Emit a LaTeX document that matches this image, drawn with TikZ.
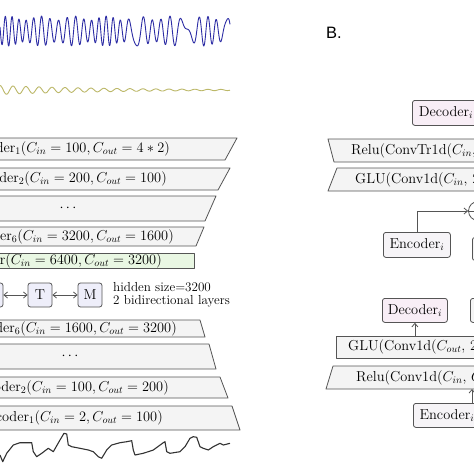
\documentclass[tikz,border=0pt]{standalone}
\usepackage{fontspec}
\newfontfamily\sansB{Liberation Sans}
\usetikzlibrary{arrows.meta}
\definecolor{bordc}{RGB}{85,85,85}
\definecolor{boxg}{RGB}{244,244,244}
\definecolor{lstmg}{RGB}{233,247,227}
\definecolor{lav}{RGB}{238,238,250}
\definecolor{pinkb}{RGB}{248,238,246}
\definecolor{encb}{RGB}{246,244,247}
\definecolor{wblue}{RGB}{45,45,165}
\definecolor{wyel}{RGB}{188,184,104}
\definecolor{wgray}{RGB}{50,50,50}
\newcommand\bfnt{\fontsize{14.4}{16}\selectfont}
\newcommand\sfnt{\fontsize{13.1}{13.5}\selectfont}
\begin{document}
\begin{tikzpicture}[x=1pt,y=-1pt,
  trap/.style={draw=bordc, fill=boxg, line width=0.8pt, line join=round},
  lbox/.style={inner sep=0pt, font=\bfnt},
  rbox/.style={draw=bordc, rounded corners=2.5pt, line width=0.8pt, inner sep=0pt, font=\bfnt},
  conn/.style={draw=bordc, line width=0.8pt},
  arr/.style={-{Straight Barb[length=3.5pt,width=6pt]}},
  darr/.style={{Straight Barb[length=3.5pt,width=6pt]}-{Straight Barb[length=3.5pt,width=6pt]}},
  ]
\clip (0,0) rectangle (474,474);
\fill[white] (0,0) rectangle (474,474);

% ---- waveforms
\draw[wblue, line width=0.9pt, line join=round] plot[domain=0:230, samples=900]
  (\x, {31-15*(0.86+0.14*sin(11*\x))*sin(48*\x - 4*atan((\x-135)/6) - 3.5*atan((\x-187)/5) + 120*sin(3*\x) - 2.5*atan((\x-226)/4))});
\draw[wyel, line width=0.9pt] plot[domain=0:230, samples=300, smooth]
  (\x, {90-4.5*exp(-\x/110)*cos(27.7*\x)});
\draw[wgray, line width=1.1pt, line join=round] (0,455) -- (2.7,461.7) -- (6.7,453.3) -- (13.3,445) -- (20,442.7) -- (31.7,442.7) -- (33.3,451.7) -- (36.7,456.7) -- (41.7,453.3) -- (48.3,448.3) -- (53.3,451.7) -- (60,440) -- (64,433.3) -- (66.7,434) -- (68.3,445) -- (71.7,446.7) -- (80,448.3) -- (88.3,450) -- (93.3,451.7) -- (98.3,456.7) -- (101.7,458.3) -- (106.7,450) -- (111.7,445) -- (120,442.7) -- (126.7,441.7) -- (131.7,440.7) -- (133.3,450) -- (135,455) -- (143.3,453.3) -- (153.3,450) -- (163.3,442.7) -- (165,441.7) -- (166.7,451.7) -- (170,453.3) -- (180,451.7) -- (185,446.7) -- (190,438.3) -- (193.3,436.7) -- (196.7,437.3) -- (200,446.7) -- (203.3,448.3) -- (208.3,450) -- (213.3,446.7) -- (220,443.3) -- (223.3,445) -- (230,443.3);

% ---- left column: decoder stack
\draw[trap] (-60,138) -- (237,138) -- (225,160) -- (-60,160) -- cycle;
\node[lbox, anchor=east] (d1) at (170,149) {Decoder$_1$($C_{in}=100, C_{out}=4*2$)};
\draw[trap] (-60,168) -- (230,168) -- (218,190) -- (-60,190) -- cycle;
\node[lbox, anchor=east] (d2) at (167,179) {Decoder$_2$($C_{in}=200, C_{out}=100$)};
\draw[trap] (-60,196) -- (216,196) -- (205,221) -- (-60,221) -- cycle;
\node[lbox] (d3) at (68,208.5) {$\cdots$};
\draw[trap] (-60,227) -- (204,227) -- (196,246) -- (-60,246) -- cycle;
\node[lbox, anchor=east] (d6) at (174,236.5) {Decoder$_6$($C_{in}=3200, C_{out}=1600$)};
\draw[trap, fill=lstmg] (-60,253) rectangle (194,268);
\node[lbox, anchor=east] (ls) at (162,260.5) {Linear($C_{in}=6400, C_{out}=3200$)};

% ---- LSTM row
\node[rbox, fill=lav, minimum size=24pt] (L) at (-9,295) {};
\node[rbox, fill=lav, minimum size=24pt] (T) at (40,295) {T};
\node[rbox, fill=lav, minimum size=24pt] (M) at (90,295) {M};
\draw[conn, darr] (L) -- (T);
\draw[conn, darr] (T) -- (M);
\node[inner sep=0pt, align=left, font=\sfnt, anchor=north west] (hs) at (113,282) {hidden size=3200\\2 bidirectional layers};

% ---- left column: encoder stack
\draw[trap] (-60,320) -- (200,320) -- (205,337) -- (-60,337) -- cycle;
\node[lbox, anchor=east] (e6) at (177,328.5) {Encoder$_6$($C_{in}=1600, C_{out}=3200$)};
\draw[trap] (-60,344) -- (209,344) -- (216,369) -- (-60,369) -- cycle;
\node[lbox] (e3) at (70,356) {$\cdots$};
\draw[trap] (-60,377) -- (220,377) -- (228,398) -- (-60,398) -- cycle;
\node[lbox, anchor=east] (e2) at (169,387.5) {Encoder$_2$($C_{in}=100, C_{out}=200$)};
\draw[trap] (-60,406) -- (232,406) -- (240,430) -- (-60,430) -- cycle;
\node[lbox, anchor=east] (e1) at (163,418) {Encoder$_1$($C_{in}=2, C_{out}=100$)};

% ---- right column
\node[inner sep=0pt, anchor=north west, font=\sansB\fontsize{16.5}{18}\selectfont] (B) at (326,26.5) {B.};

\node[rbox, fill=pinkb, minimum width=67pt, minimum height=25pt, anchor=north west] (dec1) at (412,100) {Decoder$_i$};
\draw[trap] (328,139) -- (540,139) -- (540,162) -- (334,162) -- cycle;
\node[lbox, anchor=west] (relu1) at (351,150.5) {Relu(ConvTr1d($C_{in}$, $C_{out}$, $K=8$, $S=4$))};
\draw[trap] (337,168) -- (540,168) -- (540,191) -- (328,191) -- cycle;
\node[lbox, anchor=west] (glu1) at (355,179.5) {GLU(Conv1d($C_{in}$, $2C_{in}$, $K=3$, $S=1$))};
\node[circle, draw=bordc, line width=0.8pt, minimum size=19pt, inner sep=0pt] (plus) at (478,211) {};
\draw[conn] (plus.west) -- (plus.east) (plus.north) -- (plus.south);
\node[rbox, fill=encb, minimum width=67pt, minimum height=25pt, anchor=north west] (enc1) at (383,232) {Encoder$_i$};
\node[rbox, fill=boxg, minimum width=70pt, minimum height=23pt, anchor=north west] (decn) at (472,237) {};
\draw[conn, arr] (enc1.north) |- (plus.west);

\node[rbox, fill=pinkb, minimum width=65pt, minimum height=24pt, anchor=north west] (dec2) at (382,298) {Decoder$_i$};
\node[rbox, fill=boxg, minimum width=70pt, minimum height=24pt, anchor=north west] (encn) at (470,298) {};
\draw[trap] (336,336) rectangle (540,358);
\node[lbox, anchor=west] (glu2) at (348,347) {GLU(Conv1d($C_{out}$, $2C_{out}$, $K=1$, $S=1$))};
\draw[trap] (333,366) -- (540,366) -- (540,389) -- (326,389) -- cycle;
\node[lbox, anchor=west] (relu2) at (356,377.5) {Relu(Conv1d($C_{in}$, $C_{out}$, $K=8$, $S=4$))};
\node[rbox, fill=encb, minimum width=67pt, minimum height=24pt, anchor=north west] (enc2) at (413,403) {Encoder$_i$};
\coordinate (g2top) at (dec2.south |- 0,336);
\draw[conn, arr] (g2top) -- (dec2.south);
\coordinate (e2top) at (472,403);
\coordinate (r2bot) at (472,389);
\draw[conn, arr] (e2top) -- (r2bot);
\end{tikzpicture}
\end{document}
